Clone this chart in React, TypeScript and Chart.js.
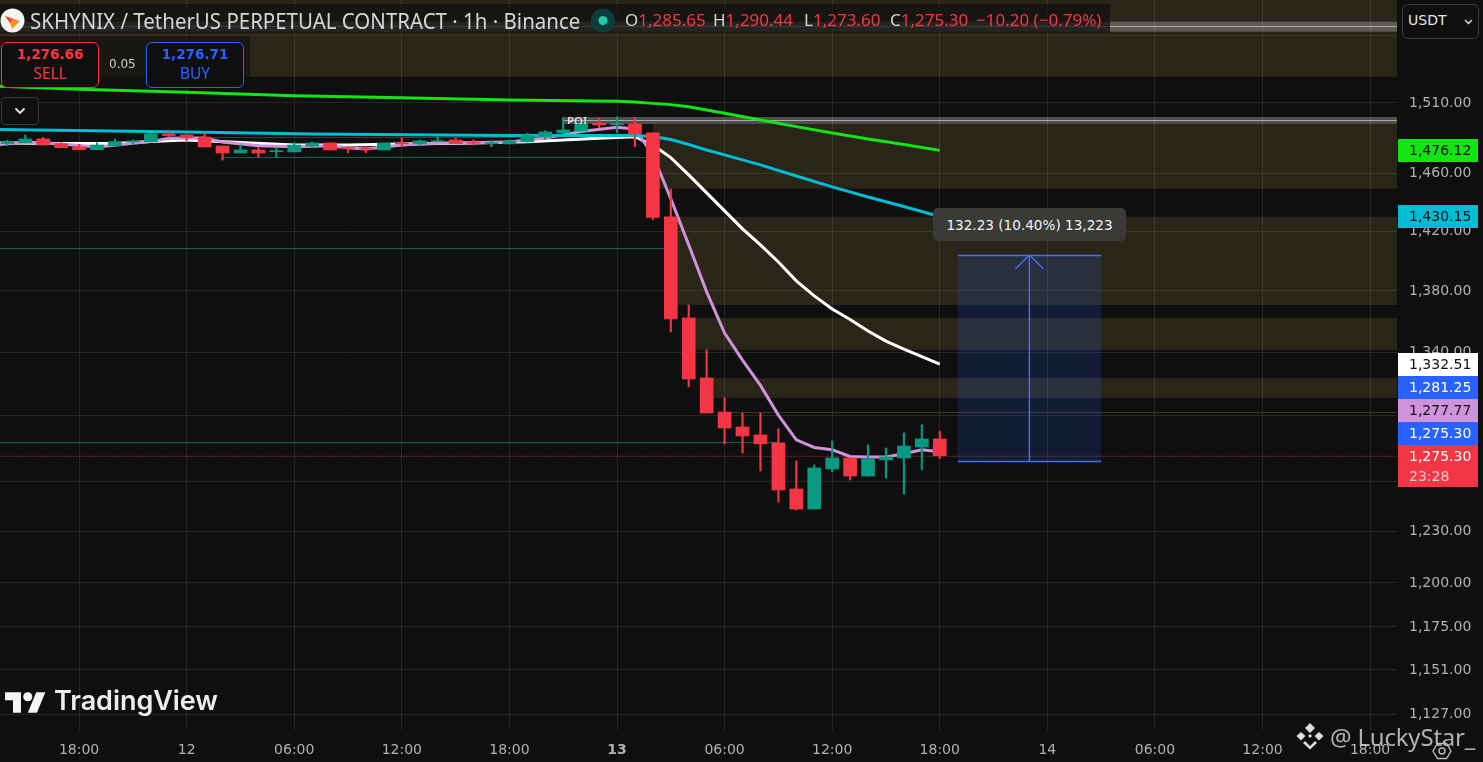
import { useEffect, useRef } from "react";
import { Chart, Plugin, registerables } from "chart.js";

Chart.register(...registerables);

const RED = "#f23645";
const GREEN = "#089981";
const BLUE = "#2962ff";
const BG = "#0f0f0f";
const UI_FONT = "'DejaVu Sans', sans-serif";

// hours since 18:00 on the 11th
const candleHours = [
  -4, -3, -2, -1, 0, 1, 2, 3, 4, 5, 6, 7, 8, 9, 10, 11, 12, 13, 14, 15, 16, 17, 18, 19, 20, 21, 22,
  23, 24, 25, 26, 27, 28, 29, 30, 31, 32, 33, 34, 35, 36, 37, 38, 39, 40, 41, 42, 43, 44, 45, 46, 47, 48,
];
const opens = [
  1480.9, 1481.4, 1484.2, 1480.9, 1478.7, 1476.6, 1479.4, 1482.1, 1482.3, 1487.8, 1487.1, 1485.6, 1479.2,
  1474.3, 1476.4, 1475.2, 1475.0, 1479.2, 1481.4, 1478.3, 1477.6, 1476.4, 1481.2, 1480.7, 1482.3, 1483.5,
  1481.6, 1480.9, 1480.7, 1482.1, 1485.6, 1488.5, 1489.9, 1495.4, 1494.4, 1494.9, 1488.5, 1429.9, 1362.3,
  1323.7, 1302.3, 1293.0, 1288.1, 1283.2, 1255.2, 1243.2, 1267.3, 1274.0, 1263.0, 1272.8, 1274.0, 1280.7, 1285.65,
];
const highs = [
  1483.3, 1487.1, 1485.4, 1481.4, 1480.4, 1481.4, 1484.2, 1483.5, 1487.8, 1489.2, 1487.1, 1488.3, 1479.2,
  1479.9, 1478.0, 1477.8, 1481.6, 1482.1, 1481.4, 1478.3, 1478.7, 1481.2, 1485.1, 1483.5, 1485.8, 1484.9,
  1483.5, 1482.8, 1483.5, 1488.3, 1490.1, 1499.6, 1495.4, 1498.9, 1500.1, 1499.6, 1488.5, 1449.1, 1370.8,
  1341.6, 1311.1, 1301.7, 1301.7, 1291.8, 1272.2, 1269.7, 1284.4, 1274.0, 1281.9, 1280.1, 1289.3, 1294.3, 1290.44,
];
const lows = [
  1479.4, 1481.4, 1479.9, 1478.0, 1476.6, 1476.6, 1479.4, 1480.7, 1482.3, 1485.4, 1482.8, 1478.5, 1469.3,
  1474.3, 1471.4, 1471.4, 1475.0, 1478.7, 1476.4, 1474.5, 1474.5, 1476.4, 1478.7, 1479.9, 1482.3, 1480.9,
  1479.9, 1478.7, 1480.7, 1482.1, 1484.0, 1488.5, 1489.9, 1492.2, 1488.7, 1478.7, 1428.0, 1353.2, 1318.1,
  1301.7, 1282.6, 1277.0, 1266.1, 1247.4, 1242.6, 1243.2, 1265.5, 1260.6, 1263.0, 1261.8, 1252.2, 1266.7, 1273.6,
];
const closes = [
  1482.1, 1484.2, 1479.9, 1478.0, 1476.6, 1479.9, 1482.3, 1482.6, 1487.8, 1486.6, 1485.1, 1478.5, 1474.3,
  1476.4, 1474.3, 1475.7, 1479.9, 1481.4, 1476.4, 1477.6, 1476.9, 1481.2, 1480.7, 1482.8, 1482.8, 1480.9,
  1481.2, 1481.6, 1482.8, 1486.6, 1489.2, 1490.6, 1495.4, 1494.2, 1494.9, 1487.8, 1429.4, 1361.7, 1323.1,
  1301.7, 1292.4, 1287.5, 1282.6, 1254.6, 1243.2, 1267.9, 1274.0, 1263.0, 1273.4, 1274.6, 1281.3, 1285.65, 1275.3,
];

const greenMaHours = [-5, 0, 6, 12, 18, 24, 30, 31, 32, 33, 34, 36, 38, 40, 42, 44, 46, 48];
const greenMa = [
  1522.5, 1519.9, 1517.7, 1515.2, 1513.7, 1512.2, 1511.2, 1510.7, 1509.7, 1508.8, 1507.2, 1502.6, 1497.8, 1493.0,
  1488.5, 1484.2, 1480.3, 1476.12,
];
const cyanMaHours = [-5, 6, 13, 24, 31, 32, 33, 34, 35, 36, 38, 40, 42, 44, 46, 48];
const cyanMa = [
  1491.0, 1489.2, 1487.8, 1486.6, 1486.7, 1486.0, 1483.8, 1480.3, 1476.4, 1472.9, 1465.9, 1458.1, 1450.5,
  1443.5, 1437.0, 1430.15,
];
const whiteMaHours = [
  -5, -1, 2, 4, 6, 9, 12, 15, 18, 22, 25, 29, 31, 32, 33, 34, 35, 36, 37, 38, 39, 40, 41, 42, 43, 44, 45, 46, 47, 48,
];
const whiteMa = [
  1481.4, 1481.0, 1481.0, 1482.4, 1483.5, 1481.7, 1479.9, 1479.9, 1480.7, 1481.4, 1482.3, 1484.7, 1485.8,
  1479.9, 1471.0, 1458.9, 1446.4, 1434.0, 1421.7, 1410.8, 1399.3, 1386.7, 1376.8, 1368.2, 1361.3, 1353.8,
  1347.3, 1342.2, 1337.3, 1332.51,
];
const purpleMaHours = [
  -5, -3, -1, 1, 3, 4, 5, 7, 8, 10, 12, 14, 15, 16, 18, 20, 24, 26, 27, 28, 30, 31, 32, 33, 34, 35, 36, 37, 38,
  39, 40, 41, 42, 43, 44, 45, 46, 47, 48,
];
const purpleMa = [
  1479.6, 1482.1, 1480.7, 1478.5, 1481.2, 1482.3, 1484.7, 1484.9, 1482.1, 1479.4, 1478.7, 1479.4, 1478.0,
  1477.1, 1479.9, 1481.2, 1482.1, 1484.9, 1487.1, 1489.5, 1492.5, 1491.3, 1472.9, 1442.3, 1410.8, 1379.4,
  1352.5, 1335.1, 1319.0, 1300.4, 1285.1, 1280.4, 1279.0, 1274.9, 1274.6, 1274.6, 1276.5, 1279.0, 1277.77,
];

const lastPriceHours = [-5, 74];
const lastPrice = [1275, 1275];

// supply / demand zones
const zoneStartHours = [-5, 32, 33, 34, 35];
const zoneTops = [1600, 1494.9, 1429.9, 1362.3, 1323.7];
const zoneBottoms = [1529.0, 1449.3, 1370.8, 1341.6, 1311.1];

const poiBandTops = [1569.9, 1499.9];
const poiBandBottoms = [1562.4, 1494.9];
const poiBandCentres = [1566.9, 1497.9];
const poiBandStarts = [-5, 27];

const tealLevelPrices = [1471.4, 1408.8, 1283.7];
const tealLevelStarts = [8, -5, -5];
const tealLevelEnds = [31.7, 33, 39];

const faintLevelPrices = [1560, 1485.8, 1302.3];
const faintLevelStarts = [-5, 7, 36];
const faintLevelEnds = [74, 25, 74];
const faintLevelColors = ["#3a3626", "#3a3a3a", "#3b3522"];

const measureHours = [49, 57];
const measureArrowHour = 53;
const measurePrices = [1271.9, 1404.1];

const priceTicks = [1510, 1460, 1420, 1380, 1340, 1300, 1260, 1230, 1200, 1175, 1151, 1127];
const hourTicks = [0, 6, 12, 18, 24, 30, 36, 42, 48, 54, 60, 66, 72];
const hourLabels = ["18:00", "12", "06:00", "12:00", "18:00", "13", "06:00", "12:00", "18:00", "14", "06:00", "12:00", "18:00"];

const ohlcKeys = ["O", "H", "L", "C"];
const ohlcValues = ["1,285.65", "1,290.44", "1,273.60", "1,275.30"];
const ohlcLefts = [625, 713, 804, 890];

const axisTagLabels = ["1,476.12", "1,430.15", "1,332.51", "1,281.25", "1,277.77", "1,275.30", "1,275.30"];
const axisTagColors = ["#12e612", "#00bcd4", "#ffffff", BLUE, "#ce93d8", BLUE, RED];
const axisTagText = ["#111", "#111", "#111", "#fff", "#111", "#fff", "#fff"];
const axisTagTops = [139, 205, 353, 376, 399, 422, 445];

const overlays: Plugin = {
  id: "overlays",
  beforeDatasetsDraw(chart) {
    const { ctx, chartArea, scales } = chart;
    const x = scales.x;
    const y = scales.y;
    ctx.save();
    ctx.beginPath();
    ctx.rect(chartArea.left, chartArea.top, chartArea.width, chartArea.height);
    ctx.clip();

    ctx.fillStyle = "rgba(230,200,90,0.12)";
    zoneStartHours.forEach((h, i) => {
      const left = x.getPixelForValue(h);
      const top = y.getPixelForValue(zoneTops[i]);
      ctx.fillRect(left, top, chartArea.right - left, y.getPixelForValue(zoneBottoms[i]) - top);
    });

    poiBandStarts.forEach((h, i) => {
      const left = x.getPixelForValue(h);
      const top = y.getPixelForValue(poiBandTops[i]);
      ctx.fillStyle = "rgba(170,170,170,0.42)";
      ctx.fillRect(left, top, chartArea.right - left, y.getPixelForValue(poiBandBottoms[i]) - top);
      ctx.fillStyle = "rgba(215,215,215,0.65)";
      ctx.fillRect(left, Math.round(y.getPixelForValue(poiBandCentres[i])), chartArea.right - left, 1);
    });

    faintLevelPrices.forEach((p, i) => {
      const left = x.getPixelForValue(faintLevelStarts[i]);
      ctx.fillStyle = faintLevelColors[i];
      ctx.fillRect(left, Math.round(y.getPixelForValue(p)), x.getPixelForValue(faintLevelEnds[i]) - left, 1);
    });

    ctx.fillStyle = "#1c5c57";
    tealLevelPrices.forEach((p, i) => {
      const left = x.getPixelForValue(tealLevelStarts[i]);
      ctx.fillRect(left, Math.round(y.getPixelForValue(p)), x.getPixelForValue(tealLevelEnds[i]) - left, 1);
    });
    ctx.restore();
  },
  afterDatasetsDraw(chart) {
    const { ctx, scales } = chart;
    const left = scales.x.getPixelForValue(measureHours[0]);
    const right = scales.x.getPixelForValue(measureHours[1]);
    const bottom = Math.round(scales.y.getPixelForValue(measurePrices[0]));
    const top = Math.round(scales.y.getPixelForValue(measurePrices[1]));
    const mid = scales.x.getPixelForValue(measureArrowHour);
    ctx.save();
    ctx.fillStyle = "rgba(41,98,255,0.16)";
    ctx.fillRect(left, top, right - left, bottom - top);
    ctx.strokeStyle = "#3f74f0";
    ctx.lineWidth = 1.4;
    ctx.beginPath();
    ctx.moveTo(left, top + 0.5);
    ctx.lineTo(right, top + 0.5);
    ctx.moveTo(left, bottom + 0.5);
    ctx.lineTo(right, bottom + 0.5);
    ctx.moveTo(mid, bottom);
    ctx.lineTo(mid, top);
    ctx.moveTo(mid - 14, top + 14);
    ctx.lineTo(mid, top);
    ctx.lineTo(mid + 14, top + 14);
    ctx.stroke();
    ctx.restore();
  },
};

function noPadding(scale: any) {
  scale.paddingTop = 0;
  scale.paddingBottom = 0;
  scale.paddingLeft = 0;
  scale.paddingRight = 0;
}

function maDataset(hours: number[], values: number[], color: string, width: number) {
  return {
    type: "line" as const,
    data: hours.map((h, i) => ({ x: h, y: values[i] })),
    borderColor: color,
    borderWidth: width,
    pointRadius: 0,
    tension: 0,
    order: 5,
  };
}

function CandleChart() {
  const canvasRef = useRef<HTMLCanvasElement>(null);

  useEffect(() => {
    if (!canvasRef.current) return;
    const candleColors = closes.map((c, i) => (c >= opens[i] ? GREEN : RED));

    const chart = new Chart(canvasRef.current, {
      type: "bar",
      data: {
        datasets: [
          {
            type: "line",
            data: lastPriceHours.map((h, i) => ({ x: h, y: lastPrice[i] })),
            borderColor: RED,
            borderWidth: 1,
            borderDash: [1, 2],
            pointRadius: 0,
            order: 6,
          },
          maDataset(greenMaHours, greenMa, "#12e612", 3),
          maDataset(cyanMaHours, cyanMa, "#00bcd4", 3),
          maDataset(purpleMaHours, purpleMa, "#ce93d8", 3),
          maDataset(whiteMaHours, whiteMa, "#ffffff", 3),
          {
            type: "bar",
            data: candleHours.map((h, i) => ({ x: h, y: [lows[i], highs[i]] })) as any,
            backgroundColor: candleColors,
            barThickness: 1.5,
            grouped: false,
            order: 2,
          },
          {
            type: "bar",
            data: candleHours.map((h, i) => ({ x: h, y: [opens[i], closes[i]] })) as any,
            backgroundColor: candleColors,
            barThickness: 13,
            minBarLength: 1,
            grouped: false,
            order: 1,
          },
        ],
      },
      options: {
        responsive: false,
        animation: false,
        devicePixelRatio: 1,
        layout: { padding: 0 },
        plugins: { legend: { display: false }, tooltip: { enabled: false } },
        scales: {
          x: {
            type: "linear",
            offset: false,
            min: -4.41,
            max: 73.5,
            afterBuildTicks: (scale) => {
              scale.ticks = hourTicks.map((value) => ({ value }));
            },
            afterFit: (scale) => {
              scale.height = 32;
              noPadding(scale);
            },
            grid: { color: "#262626", drawTicks: false, offset: false },
            border: { display: false },
            ticks: {
              autoSkip: false,
              maxRotation: 0,
              padding: 12,
              color: "#b2b2b2",
              font: (ctx) => ({
                family: "DejaVu Sans",
                size: 14,
                weight: ctx.tick && ctx.tick.value === 30 ? "bold" : "normal",
              }),
              callback: (_value, index) => hourLabels[index],
            },
          },
          y: {
            type: "logarithmic",
            position: "right",
            min: 1118.4,
            max: 1586.3,
            afterBuildTicks: (scale) => {
              scale.ticks = priceTicks.map((value) => ({ value }));
            },
            afterFit: (scale) => {
              scale.width = 86;
              noPadding(scale);
            },
            grid: { color: "#262626", drawTicks: false },
            border: { display: false },
            ticks: {
              autoSkip: false,
              padding: 12,
              color: "#b2b2b2",
              font: { family: "DejaVu Sans", size: 14 },
              callback: (value) =>
                Number(value).toLocaleString("en-US", { minimumFractionDigits: 2, maximumFractionDigits: 2 }),
            },
          },
        },
      },
      plugins: [overlays],
    });

    return () => chart.destroy();
  }, []);

  return <canvas ref={canvasRef} width={1483} height={762} style={{ display: "block" }} />;
}

function Abs({ style, children }: { style: React.CSSProperties; children?: React.ReactNode }) {
  return <div style={{ position: "absolute", whiteSpace: "nowrap", ...style }}>{children}</div>;
}

function TradeButton({ left, color, price, label }: { left: number; color: string; price: string; label: string }) {
  return (
    <Abs
      style={{
        left,
        top: 42,
        width: 96,
        height: 44,
        border: `1px solid ${color}`,
        borderRadius: 6,
        background: BG,
        color,
        textAlign: "center",
        fontFamily: UI_FONT,
      }}
    >
      <div style={{ fontSize: 13.5, fontWeight: 700, lineHeight: "17px", marginTop: 3 }}>{price}</div>
      <div style={{ fontSize: 15.5, fontFamily: "'Noto Sans', sans-serif", lineHeight: "20px", marginTop: 0 }}>{label}</div>
    </Abs>
  );
}

export default function App() {
  const titleFont = "'Noto Sans', sans-serif";
  return (
    <div style={{ position: "fixed", left: 0, top: 0, width: 1483, height: 762, background: BG, overflow: "hidden" }}>
      <CandleChart />

      <Abs style={{ left: 353, top: 20, color: "#777", fontSize: 11, fontFamily: titleFont, letterSpacing: 0.6 }}>SUPPLY</Abs>
      <Abs style={{ left: 567, top: 113, color: "#ddd", fontSize: 11.5, fontWeight: 600, fontFamily: titleFont, height: 11, overflow: "hidden", lineHeight: "15px" }}>POI</Abs>

      {/* header */}
      <Abs style={{ left: 0, top: 4, width: 1110, height: 29, background: "rgba(15,15,15,0.72)" }} />
      <Abs style={{ left: 0, top: 36, width: 250, height: 41, background: "rgba(15,15,15,0.62)" }} />
      <svg style={{ position: "absolute", left: 0, top: 8 }} width="25" height="25" viewBox="0 0 25 25">
        <circle cx="12.5" cy="12.5" r="12" fill="#f4f4f4" />
        <path d="M5 8 L20 13 L12 21 L10 15 Z" fill="#f7931e" />
        <path d="M5 8 L13 11 L10 15 Z" fill="#e8483a" />
      </svg>
      <Abs
        style={{
          left: 30,
          top: 5,
          color: "#d6d6d6",
          fontSize: 22,
          lineHeight: "30px",
          fontFamily: titleFont,
          transform: "scaleX(0.93)",
          transformOrigin: "left",
        }}
      >
        SKHYNIX / TetherUS PERPETUAL CONTRACT · 1h · Binance
      </Abs>
      <svg style={{ position: "absolute", left: 590, top: 8 }} width="26" height="26" viewBox="0 0 26 26">
        <circle cx="13" cy="12.5" r="12" fill="#0f3d3c" />
        <circle cx="13" cy="12.5" r="4.6" fill="#26c6b2" />
      </svg>
      {ohlcKeys.map((k, i) => (
        <Abs key={k} style={{ left: ohlcLefts[i], top: 8, fontSize: 17, lineHeight: "24px", fontFamily: titleFont, color: RED }}>
          <span style={{ color: "#d6d6d6" }}>{k}</span>
          {ohlcValues[i]}
        </Abs>
      ))}
      <Abs style={{ left: 976, top: 8, fontSize: 17, lineHeight: "24px", fontFamily: titleFont, color: RED }}>−10.20 (−0.79%)</Abs>

      <TradeButton left={1} color={RED} price="1,276.66" label="SELL" />
      <Abs style={{ left: 109, top: 57, color: "#cfcfcf", fontSize: 12, fontFamily: UI_FONT }}>0.05</Abs>
      <TradeButton left={146} color={BLUE} price="1,276.71" label="BUY" />

      <Abs style={{ left: 1, top: 97, width: 36, height: 26, border: "1px solid #363636", borderRadius: 4, background: BG }}>
        <svg style={{ position: "absolute", left: 12, top: 9 }} width="12" height="8" viewBox="0 0 12 8">
          <path d="M1.5 1.5 L6 6 L10.5 1.5" stroke="#e8e8e8" strokeWidth="1.8" fill="none" />
        </svg>
      </Abs>

      <Abs style={{ left: 1402, top: 4, width: 75, height: 33, border: "1px solid #3c3c3c", borderRadius: 6, background: BG }}>
        <span style={{ position: "absolute", left: 5, top: 7, color: "#e6e6e6", fontSize: 14, fontFamily: UI_FONT }}>USDT</span>
        <svg style={{ position: "absolute", left: 61, top: 14 }} width="9" height="6" viewBox="0 0 9 6">
          <path d="M1 1 L4.5 4.5 L8 1" stroke="#ddd" strokeWidth="1.4" fill="none" />
        </svg>
      </Abs>

      {/* axis price tags */}
      {axisTagLabels.map((label, i) => (
        <Abs
          key={i}
          style={{
            left: 1398,
            top: axisTagTops[i],
            width: 80,
            height: i === 6 ? 42 : 23,
            background: axisTagColors[i],
            color: axisTagText[i],
            fontFamily: UI_FONT,
            fontSize: 14,
            lineHeight: "23px",
            paddingLeft: 11,
            boxSizing: "border-box",
          }}
        >
          {label}
          {i === 6 && <div style={{ color: "#ffc4c9", lineHeight: "17px" }}>23:28</div>}
        </Abs>
      ))}

      {/* measure label */}
      <Abs
        style={{
          left: 933,
          top: 208,
          width: 193,
          height: 33,
          borderRadius: 5,
          background: "#3a3a36",
          color: "#f2f2f2",
          fontFamily: UI_FONT,
          fontSize: 13.6,
          lineHeight: "35px",
          textAlign: "center",
        }}
      >
        132.23 (10.40%) 13,223
      </Abs>

      {/* logo */}
      <svg style={{ position: "absolute", left: 5, top: 690 }} width="41" height="25" viewBox="0 0 36 22">
        <path d="M14 22H7V11H0V4h14v18zM28 22h-8l7.5-18h8L28 22z" fill="#f4f4f4" transform="translate(0,-2)" />
        <circle cx="20" cy="6" r="4" fill="#f4f4f4" />
      </svg>
      <Abs style={{ left: 54, top: 684, color: "#ededed", fontSize: 27, fontWeight: 600, fontFamily: "Inter, sans-serif", letterSpacing: -0.05 }}>TradingView</Abs>

      {/* watermark */}
      <svg style={{ position: "absolute", left: 1296, top: 722 }} width="28" height="28" viewBox="0 0 28 28" fill="#dcdcdc">
        <path d="M14 1 L19 6 L14 11 L9 6 Z M5 10 L9.5 14 L5 18.5 L0.5 14 Z M23 10 L27.5 14 L23 18.5 L18.5 14 Z M14 12 L16 14 L14 16 L12 14 Z M9 19 L14 24 L19 19 L21 21 L14 27.5 L7 21 Z" />
      </svg>
      <Abs style={{ left: 1330, top: 720, color: "rgba(205,205,205,0.85)", fontSize: 24, fontFamily: titleFont, letterSpacing: -0.2 }}>@ LuckyStar_</Abs>
      <svg style={{ position: "absolute", left: 1432, top: 741 }} width="20" height="20" viewBox="0 0 20 20">
        <path d="M5.5 2.5 H14.5 L19 10 L14.5 17.5 H5.5 L1 10 Z" stroke="#bbb" strokeWidth="1.4" fill="none" />
        <circle cx="10" cy="10" r="3" stroke="#bbb" strokeWidth="1.4" fill="none" />
      </svg>
    </div>
  );
}
